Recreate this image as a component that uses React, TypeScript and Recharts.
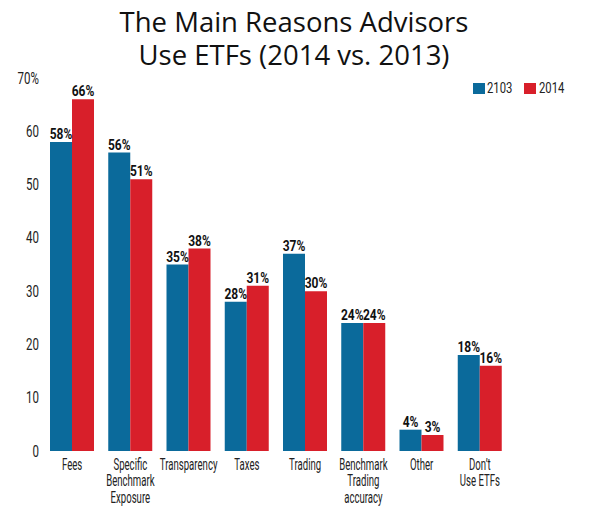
import React from 'react';
import { BarChart, Bar, XAxis, YAxis, LabelList } from 'recharts';

const CATEGORIES = ['Fees', 'Specific\nBenchmark\nExposure', 'Transparency', 'Taxes', 'Trading', 'Benchmark\nTrading\naccuracy', 'Other', 'Don’t\nUse ETFs'];
const Y2013 = [58, 56, 35, 28, 37, 24, 4, 18];
const Y2014 = [66, 51, 38, 31, 30, 24, 3, 16];
const Y_TICKS = [0, 10, 20, 30, 40, 50, 60, 70];

const DATA = CATEGORIES.map((c, i) => ({ cat: c, a: Y2013[i], b: Y2014[i] }));

const BLUE = '#0b6a9b';
const RED = '#d81f2a';
const FONT = 'Roboto, sans-serif';

// no condensed face installed, so squeeze text horizontally
const CatTick = (props: any) => {
    const { x, y, payload } = props;
    const lines = String(payload.value).split('\n');
    return (
        <text transform={`translate(${x} ${y}) scale(0.6 1)`} textAnchor="middle" fill="#222" fontSize={16} fontFamily={FONT}>
            {lines.map((l, i) => (
                <tspan key={i} x={0} dy={i === 0 ? 11 : 16.5}>{l}</tspan>
            ))}
        </text>
    );
};

const ValTick = (props: any) => {
    const { x, y, payload } = props;
    const v = payload.value;
    return (
        <text transform={`translate(${x} ${y + 5.5}) scale(0.72 1)`} textAnchor="end" fill="#222" fontSize={16} fontFamily={FONT}>
            {v === 70 ? '70%' : String(v)}
        </text>
    );
};

const BarLabel = (props: any) => {
    const { x, y, width, value } = props;
    return (
        <text transform={`translate(${x + width / 2} ${y - 3}) scale(0.8 1)`} textAnchor="middle" fill="#111" fontSize={15} fontWeight={700} fontFamily={FONT}>
            {`${value}%`}
        </text>
    );
};

const legendText: React.CSSProperties = {
    position: 'absolute', top: 79, fontFamily: FONT, fontSize: 15, color: '#222',
    transform: 'scaleX(0.75)', transformOrigin: 'left', whiteSpace: 'nowrap', lineHeight: '18px',
};

export default function App() {
    return (
        <div style={{ position: 'relative', width: 595, height: 525, background: '#fff' }}>
            <style>{'body{margin:0}'}</style>
            <div style={{ position: 'absolute', top: 5, left: 0, width: 588, textAlign: 'center', fontFamily: '"Open Sans", sans-serif', fontSize: 27.5, lineHeight: '33px', color: '#111' }}>
                The Main Reasons Advisors<br />Use ETFs (2014 vs. 2013)
            </div>
            {/* Legend */}
            <span style={{ position: 'absolute', left: 473, top: 83, width: 12, height: 11, background: BLUE }} />
            <span style={{ ...legendText, left: 487 }}>2103</span>
            <span style={{ position: 'absolute', left: 524, top: 83, width: 12, height: 11, background: RED }} />
            <span style={{ ...legendText, left: 539 }}>2014</span>
            <div style={{ position: 'absolute', top: 0, left: 0 }}>
                <BarChart width={595} height={525} data={DATA} margin={{ top: 78, right: 86, left: 3, bottom: 14 }} barSize={22} barGap={0}>
                    <XAxis dataKey="cat" axisLine={false} tickLine={false} interval={0} height={60} tick={<CatTick />} />
                    <YAxis domain={[0, 70]} ticks={Y_TICKS} width={40} axisLine={false} tickLine={false} tickSize={0} tickMargin={4}
                        tick={<ValTick />} />
                    <Bar dataKey="a" fill={BLUE} isAnimationActive={false}>
                        <LabelList dataKey="a" content={(p: any) => <BarLabel {...p} />} />
                    </Bar>
                    <Bar dataKey="b" fill={RED} isAnimationActive={false}>
                        <LabelList dataKey="b" content={(p: any) => <BarLabel {...p} />} />
                    </Bar>
                </BarChart>
            </div>
        </div>
    );
}
